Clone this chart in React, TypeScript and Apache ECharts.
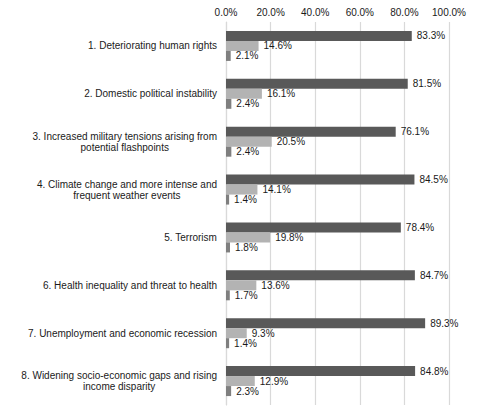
import React, { useEffect, useRef } from 'react';
import * as echarts from 'echarts';

const categories = [
  '1. Deteriorating human rights',
  '2. Domestic political instability',
  '3. Increased military tensions arising from\npotential flashpoints',
  '4. Climate change and more intense and\nfrequent weather events',
  '5. Terrorism',
  '6. Health inequality and threat to health',
  '7. Unemployment and economic recession',
  '8. Widening socio-economic gaps and rising\nincome disparity',
];

const seriesA = [83.3, 81.5, 76.1, 84.5, 78.4, 84.7, 89.3, 84.8];
const seriesB = [14.6, 16.1, 20.5, 14.1, 19.8, 13.6, 9.3, 12.9];
const seriesC = [2.1, 2.4, 2.4, 1.4, 1.8, 1.7, 1.4, 2.3];

const FONT = '"Liberation Sans", Arial, sans-serif';

const App: React.FC = () => {
  const chartRef = useRef<HTMLDivElement>(null);

  useEffect(() => {
    if (!chartRef.current) return;
    const chart = echarts.init(chartRef.current, undefined, { renderer: 'svg' });

    const valueLabel = {
      show: true,
      position: 'right' as const,
      distance: 5,
      fontSize: 10,
      fontFamily: FONT,
      color: '#1a1a1a',
      formatter: (p: any) => `${p.value.toFixed(1)}%`,
    };

    const option: echarts.EChartsOption = {
      animation: false,
      textStyle: { fontFamily: FONT },
      grid: { left: 226, right: 29, top: 22, bottom: 5 },
      xAxis: {
        type: 'value',
        position: 'top',
        min: 0,
        max: 100,
        interval: 20,
        axisLine: { show: false },
        axisTick: { show: false },
        axisLabel: {
          margin: 5,
          fontSize: 10,
          fontFamily: FONT,
          color: '#1a1a1a',
          formatter: (v: number) => `${v.toFixed(1)}%`,
        },
        splitLine: { show: true, lineStyle: { color: '#d9d9d9', width: 1.2 } },
      },
      yAxis: {
        type: 'category',
        inverse: true,
        data: categories,
        axisLine: { show: true, lineStyle: { color: '#d9d9d9', width: 1.2 } },
        axisTick: { show: false },
        axisLabel: {
          margin: 9,
          fontSize: 10,
          fontFamily: FONT,
          color: '#1a1a1a',
          lineHeight: 11,
          formatter: (v: string) =>
            v
              .split('\n')
              .map(l => `{c|${l}}`)
              .join('\n'),
          rich: {
            c: {
              align: 'center',
              fontSize: 10,
              lineHeight: 11,
              fontFamily: FONT,
              color: '#1a1a1a',
            },
          },
        },
      },
      series: [
        {
          type: 'bar',
          data: seriesA,
          barWidth: 10,
          barGap: '0%',
          itemStyle: { color: '#595959' },
          label: valueLabel,
        },
        {
          type: 'bar',
          data: seriesB,
          barWidth: 10,
          barGap: '0%',
          itemStyle: { color: '#b3b3b3' },
          label: valueLabel,
        },
        {
          type: 'bar',
          data: seriesC,
          barWidth: 10,
          barGap: '0%',
          itemStyle: { color: '#7f7f7f' },
          label: valueLabel,
        },
      ],
    };

    chart.setOption(option);

    return () => {
      chart.dispose();
    };
  }, []);

  return (
    <div
      ref={chartRef}
      style={{ position: 'absolute', left: 0, top: 0, width: 478, height: 410, background: '#fff' }}
    />
  );
};

export default App;
